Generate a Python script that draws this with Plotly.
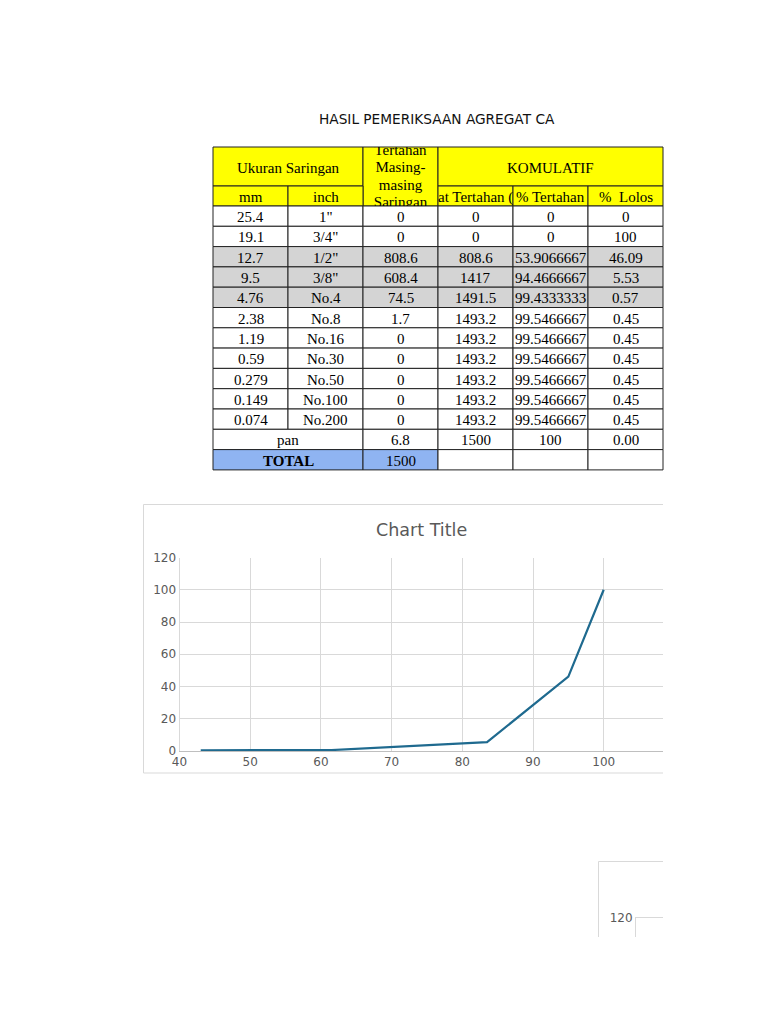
import plotly.graph_objects as go

# ---- data (read from the sheet) ----
judul = "HASIL PEMERIKSAAN AGREGAT CA"
kolom_atas = ["Ukuran Saringan", "KOMULATIF"]
kolom_tertahan = ["Tertahan", "Masing-", "masing", "Saringan"]
kolom_bawah = ["mm", "inch", "at Tertahan (", "% Tertahan", "%  Lolos"]

mm = ["25.4", "19.1", "12.7", "9.5", "4.76", "2.38", "1.19", "0.59", "0.279", "0.149", "0.074"]
inch = ['1"', '3/4"', '1/2"', '3/8"', "No.4", "No.8", "No.16", "No.30", "No.50", "No.100", "No.200"]
tertahan = ["0", "0", "808.6", "608.4", "74.5", "1.7", "0", "0", "0", "0", "0"]
berat_kum = ["0", "0", "808.6", "1417", "1491.5", "1493.2", "1493.2", "1493.2", "1493.2", "1493.2", "1493.2"]
persen_tertahan = ["0", "0", "53.9066667", "94.4666667", "99.4333333", "99.5466667",
                   "99.5466667", "99.5466667", "99.5466667", "99.5466667", "99.5466667"]
persen_lolos = ["0", "100", "46.09", "5.53", "0.57", "0.45", "0.45", "0.45", "0.45", "0.45", "0.45"]
baris_pan = ["pan", "6.8", "1500", "100", "0.00"]
baris_total = ["TOTAL", "1500"]

grafik_judul = "Chart Title"
grafik_x = [43, 50, 56, 61.5, 83.5, 95, 100]
grafik_y = [0.45, 0.45, 0.45, 0.57, 5.53, 46.09, 100]

# ---- page geometry: figure sits inside the 8px body margin ----
OFF = 8
FW, FH = 752, 1008


def px(x):
    return (x - OFF) / FW


def py(y):
    return 1 - (y - OFF) / FH


TX0, COL_W = 213, 75
TY0, H1, H2, ROW_H = 147, 39, 20, 20.3
KUNING, ABU, BIRU = "#ffff00", "#d4d4d4", "#8fb4f2"
SERIF = "Liberation Serif"
FS = 15

shapes = []
annotations = []


def cell(c0, c1, y0, y1, fill="white", text=None, bold=False):
    x0, x1 = TX0 + c0 * COL_W, TX0 + c1 * COL_W
    shapes.append(dict(type="rect", xref="paper", yref="paper",
                       x0=px(x0), x1=px(x1), y0=py(y1), y1=py(y0),
                       fillcolor=fill, line=dict(color="#222", width=1), layer="below"))
    if text is not None:
        annotations.append(dict(xref="paper", yref="paper", x=px((x0 + x1) / 2),
                                y=py((y0 + y1) / 2 + 1), text=f"<b>{text}</b>" if bold else text,
                                showarrow=False, xanchor="center", yanchor="middle",
                                font=dict(family=SERIF, size=FS, color="black")))


# header
cell(0, 2, TY0, TY0 + H1, KUNING, kolom_atas[0])
cell(2, 3, TY0, TY0 + H1 + H2, KUNING)
cell(3, 6, TY0, TY0 + H1, KUNING, kolom_atas[1])
for i, t in enumerate(kolom_bawah):
    c = i if i < 2 else i + 1
    cell(c, c + 1, TY0 + H1, TY0 + H1 + H2, KUNING, t)

# body
y = TY0 + H1 + H2
for r in range(len(mm)):
    fill = ABU if 2 <= r <= 4 else "white"
    vals = [mm[r], inch[r], tertahan[r], berat_kum[r], persen_tertahan[r], persen_lolos[r]]
    for c, v in enumerate(vals):
        cell(c, c + 1, y, y + ROW_H, fill, v)
    y += ROW_H

cell(0, 2, y, y + ROW_H, "white", baris_pan[0])
for c, v in enumerate(baris_pan[1:]):
    cell(c + 2, c + 3, y, y + ROW_H, "white", v)
y += ROW_H
cell(0, 2, y, y + ROW_H, BIRU, baris_total[0], bold=True)
cell(2, 3, y, y + ROW_H, BIRU, baris_total[1])
for c in range(3, 6):
    cell(c, c + 1, y, y + ROW_H, "white")

# page title
annotations.append(dict(xref="paper", yref="paper", x=px(437), y=py(119), text=judul,
                        showarrow=False, xanchor="center", yanchor="middle",
                        font=dict(family="DejaVu Sans", size=13.7, color="#111")))

# chart frame (right side cut by page edge)
GRID = "#d9d9d9"
shapes.append(dict(type="path", xref="paper", yref="paper",
                   path=f"M {px(143.5)} {py(773)} L {px(143.5)} {py(504.5)} L {px(663)} {py(504.5)}",
                   line=dict(color=GRID, width=1)))
shapes.append(dict(type="line", xref="paper", yref="paper", x0=px(143.5), x1=px(663),
                   y0=py(773), y1=py(773), line=dict(color=GRID, width=1)))
annotations.append(dict(xref="paper", yref="paper", x=px(421), y=py(530), text=grafik_judul,
                        showarrow=False, xanchor="center", yanchor="middle",
                        font=dict(family="DejaVu Sans", size=17.5, color="#595959")))

# second chart fragment frame
shapes.append(dict(type="path", xref="paper", yref="paper",
                   path=f"M {px(598.5)} {py(937)} L {px(598.5)} {py(861.5)} L {px(663)} {py(861.5)}",
                   line=dict(color=GRID, width=1)))

fig = go.Figure()

# clipped header text "Tertahan Masing-masing Saringan"
fig.add_trace(go.Scatter(
    x=[0.5] * len(kolom_tertahan), y=[151, 168.5, 186, 203.5],
    mode="text", text=kolom_tertahan, textposition="middle center",
    textfont=dict(family=SERIF, size=FS, color="black"),
    cliponaxis=True, xaxis="x2", yaxis="y2", hoverinfo="skip", showlegend=False))

fig.add_trace(go.Scatter(
    x=grafik_x, y=grafik_y, mode="lines",
    line=dict(color="#1f6a8f", width=2.2), showlegend=False, hoverinfo="x+y"))

tick_font = dict(family="DejaVu Sans", size=12, color="#595959")

fig.update_layout(
    width=FW, height=FH, margin=dict(l=0, r=0, t=0, b=0, autoexpand=False),
    paper_bgcolor="white", plot_bgcolor="rgba(0,0,0,0)",
    shapes=shapes, annotations=annotations,
    xaxis=dict(domain=[px(179.5), px(663)], range=[40, 40 + (663 - 179.5) / 7.07],
               tick0=40, dtick=10, showgrid=True, gridcolor=GRID, gridwidth=1,
               showline=True, linecolor="#bfbfbf", zeroline=False, ticks="",
               tickfont=tick_font, fixedrange=True, automargin=False),
    yaxis=dict(domain=[py(751), py(557.5)], range=[0, 120], dtick=20,
               showgrid=True, gridcolor=GRID, showline=True, linecolor=GRID,
               zeroline=False, ticks="", tickfont=tick_font, fixedrange=True,
               automargin=False),
    xaxis2=dict(domain=[px(TX0 + 2 * COL_W), px(TX0 + 3 * COL_W)], range=[0, 1],
                visible=False, anchor="y2"),
    yaxis2=dict(domain=[py(TY0 + H1 + H2), py(TY0)], range=[TY0 + H1 + H2, TY0],
                visible=False, anchor="x2"),
    xaxis3=dict(domain=[px(636), px(663)], range=[0, 1], side="top", showline=True,
                linecolor=GRID, showgrid=False, showticklabels=False, zeroline=False,
                anchor="y3", automargin=False),
    yaxis3=dict(domain=[py(937), py(918)], range=[108, 120], tickvals=[120],
                showline=True, linecolor=GRID, showgrid=False, zeroline=False, ticks="",
                tickfont=tick_font, anchor="x3", automargin=False),
)

# empty trace so the fragment axes render
fig.add_trace(go.Scatter(x=[], y=[], xaxis="x3", yaxis="y3", showlegend=False))

fig.write_html("out.html")
